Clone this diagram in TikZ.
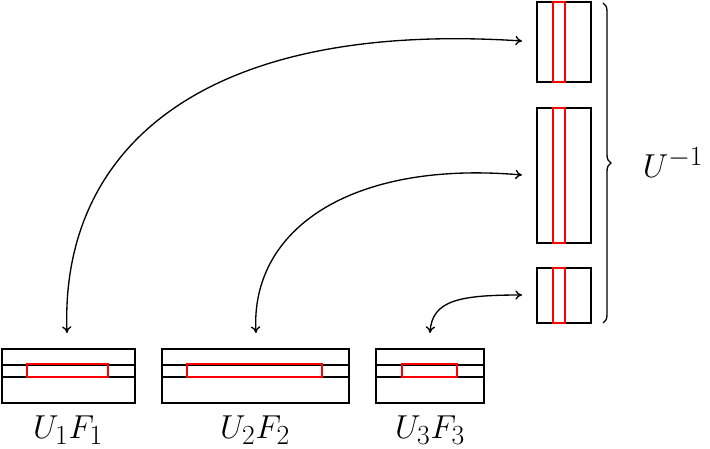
\documentclass[tikz,border=0pt]{standalone}
\usetikzlibrary{decorations.pathreplacing,arrows.meta}
\begin{document}
\begin{tikzpicture}[x=0.75pt,y=-0.75pt,
  box/.style={draw,line width=1.3pt},
  red box/.style={draw=red,line width=1.8pt},
  conn/.style={{To[length=5pt,width=7pt]}-{To[length=5pt,width=7pt]},line width=1pt},
  lab/.style={font=\fontsize{30}{34}\selectfont}]
\useasboundingbox (0,0) rectangle (710,449);
% bottom boxes
\foreach \a/\b/\ra/\rb/\n in {2/135/27/108/1,162/349/187/322/2,376/484/402/457/3}{
  \draw[box] (\a,349) rectangle (\b,403);
  \draw[line width=1.3pt] (\a,365) -- (\b,365) (\a,377) -- (\b,377);
  \draw[red box] (\ra,364) rectangle (\rb,377);
}
\node[lab] (l1) at (68,430) {$U_1F_1$};
\node[lab] (l2) at (255,430) {$U_2F_2$};
\node[lab] (l3) at (430,430) {$U_3F_3$};
% right boxes
\foreach \t/\bb in {2/82,108/243,268/323}{
  \draw[box] (537,\t) rectangle (591,\bb);
  \draw[red box] (553,\t) rectangle (565,\bb);
}
\coordinate (b1) at (67,333);
\coordinate (b2) at (256,333);
\coordinate (b3) at (430,333);
\coordinate (r1) at (522,41);
\coordinate (r2) at (522,175);
\coordinate (r3) at (522,295);
\draw[conn] (b1) .. controls (60,150) and (200,20) .. (r1);
\draw[conn] (b2) .. controls (250,230) and (350,160) .. (r2);
\draw[conn] (b3) .. controls (432,300) and (460,295) .. (r3);
\draw[decorate,decoration={brace,amplitude=6pt},line width=1pt] (603,3) -- (603,323);
\node[lab] (u) at (673,163) {$U^{-1}$};
\end{tikzpicture}
\end{document}
